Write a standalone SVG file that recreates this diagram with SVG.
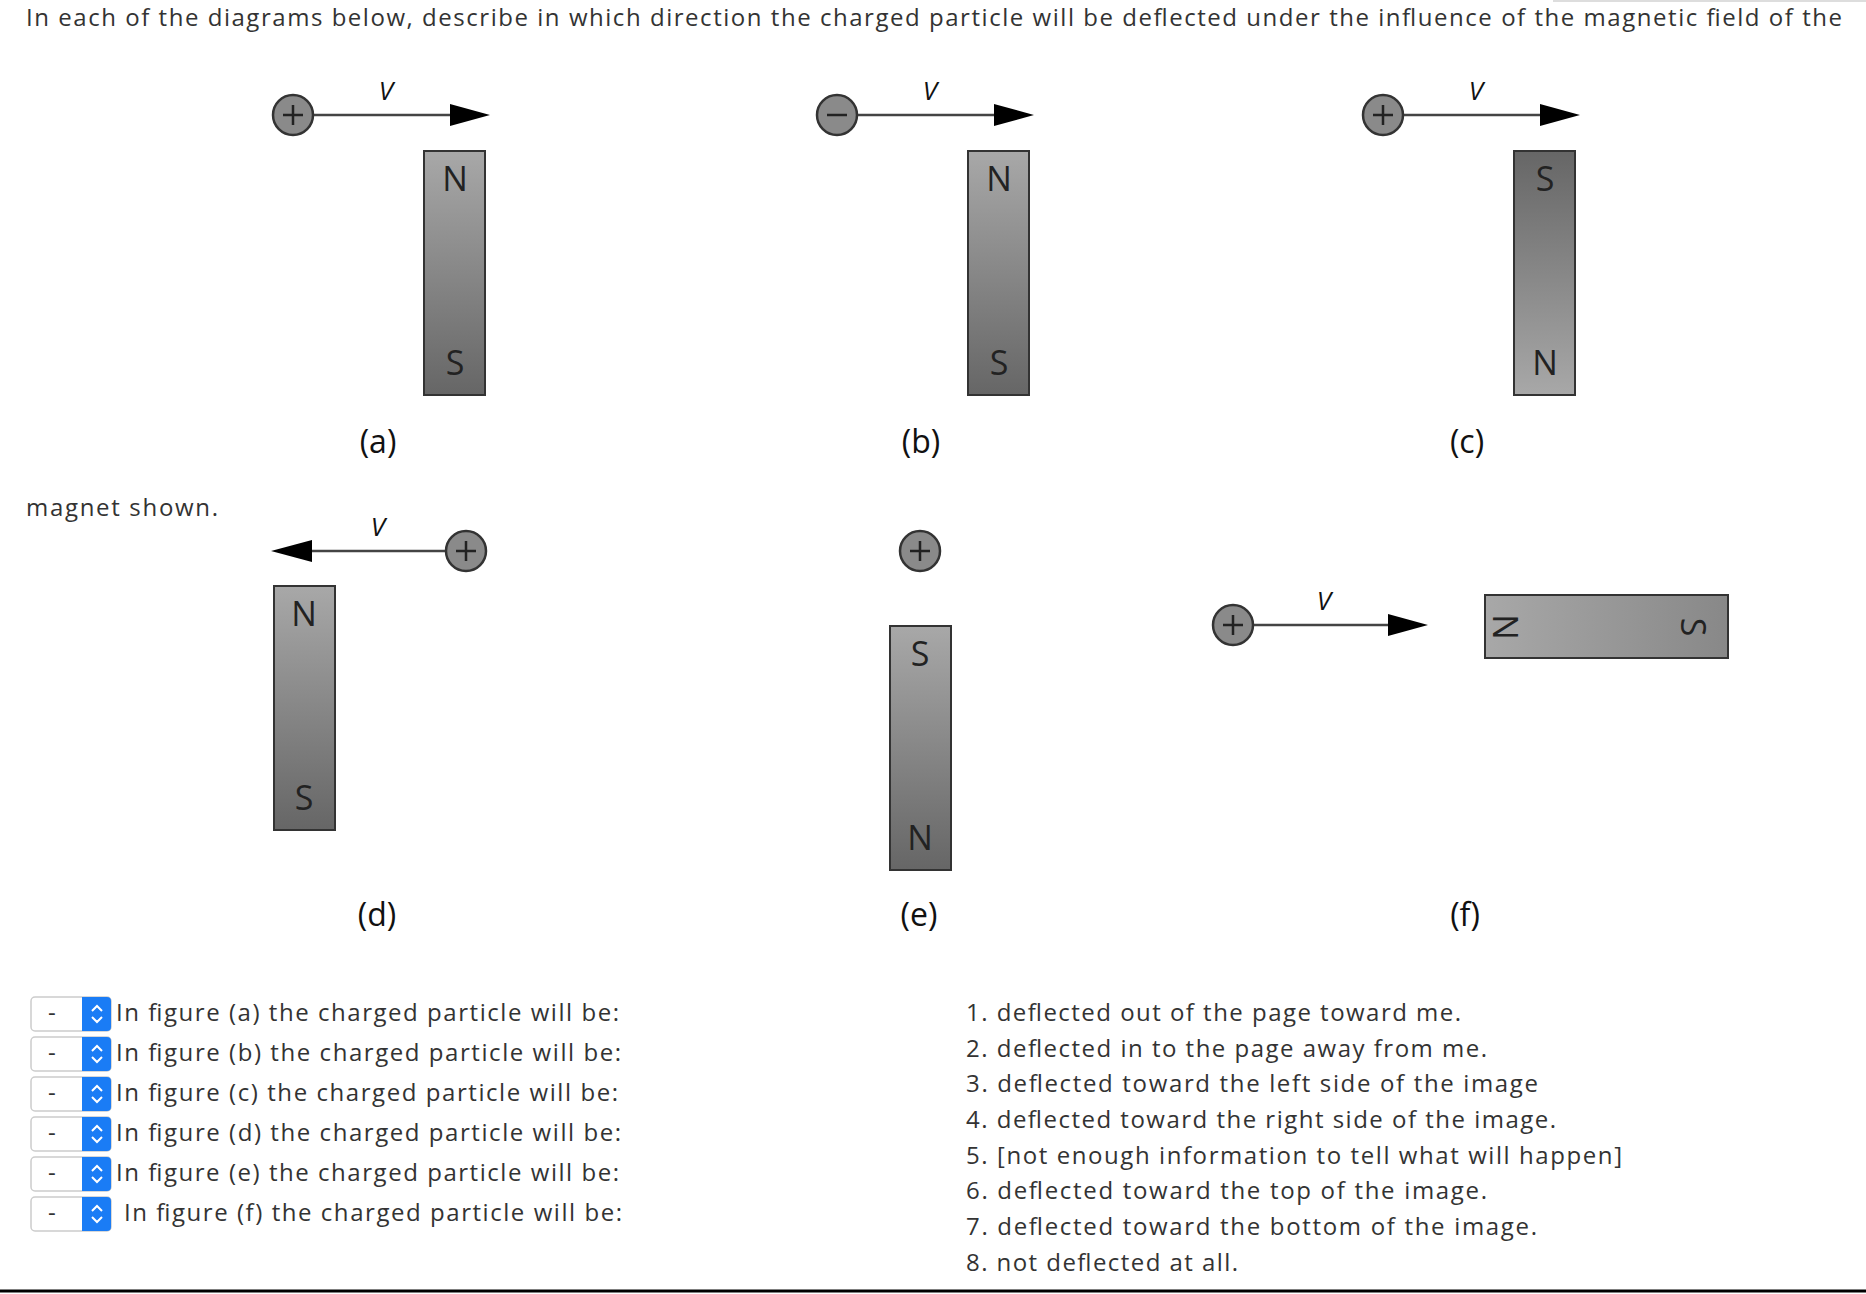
<svg xmlns="http://www.w3.org/2000/svg" width="1866" height="1294" viewBox="0 0 1866 1294">
<style>
text{font-family:"Open Sans","Noto Sans","DejaVu Sans",sans-serif;fill:#333}
.t{font-size:24px}
.big{font-size:32px;fill:#111}
.pol{font-size:34px;fill:#222;text-anchor:middle}
.v{font-size:26px;font-style:italic;fill:#111;text-anchor:middle}
.p{fill:#8a8a8a;stroke:#333;stroke-width:2.5}
.sign{stroke:#222;stroke-width:2.5}
.ln{stroke:#444;stroke-width:2.5}
.mag{stroke:#333;stroke-width:2}
.sel{fill:#fff;stroke:#ccc;stroke-width:1.5}
.lbl{text-anchor:middle}
</style>
<defs>
<linearGradient id="gNS" x1="0" y1="0" x2="0" y2="1"><stop offset="0" stop-color="#a8a8a8"/><stop offset="1" stop-color="#666"/></linearGradient>
<linearGradient id="gSN" x1="0" y1="0" x2="0" y2="1"><stop offset="0" stop-color="#666"/><stop offset="1" stop-color="#a8a8a8"/></linearGradient>
<linearGradient id="gH" x1="0" y1="0" x2="1" y2="0"><stop offset="0" stop-color="#a8a8a8"/><stop offset="1" stop-color="#888"/></linearGradient>
</defs>
<text class="t" x="26" y="26" textLength="1816">In each of the diagrams below, describe in which direction the charged particle will be deflected under the influence of the magnetic field of the</text>
<line x1="1553" y1="1" x2="1866" y2="1" stroke="#ddd" stroke-width="2"/>
<text class="t" x="26" y="516" textLength="192">magnet shown.</text>

<g id="fig-a">
<line class="ln" x1="313" y1="115" x2="452" y2="115"/><polygon points="450,104 490,115 450,126" fill="#000"/>
<circle class="p" cx="293" cy="115" r="20"/><path class="sign" d="M283,115h20M293,105v20"/>
<text class="v" x="386" y="100">V</text>
<rect class="mag" x="424" y="151" width="61" height="244" fill="url(#gNS)"/>
<text class="pol" x="455" y="191">N</text><text class="pol" x="455" y="375">S</text>
<text class="big lbl" x="378" y="453">(a)</text>
</g>
<g id="fig-b">
<line class="ln" x1="857" y1="115" x2="996" y2="115"/><polygon points="994,104 1034,115 994,126" fill="#000"/>
<circle class="p" cx="837" cy="115" r="20"/><path class="sign" d="M827,115h20"/>
<text class="v" x="930" y="100">V</text>
<rect class="mag" x="968" y="151" width="61" height="244" fill="url(#gNS)"/>
<text class="pol" x="999" y="191">N</text><text class="pol" x="999" y="375">S</text>
<text class="big lbl" x="921" y="453">(b)</text>
</g>
<g id="fig-c">
<line class="ln" x1="1403" y1="115" x2="1542" y2="115"/><polygon points="1540,104 1580,115 1540,126" fill="#000"/>
<circle class="p" cx="1383" cy="115" r="20"/><path class="sign" d="M1373,115h20M1383,105v20"/>
<text class="v" x="1476" y="100">V</text>
<rect class="mag" x="1514" y="151" width="61" height="244" fill="url(#gSN)"/>
<text class="pol" x="1545" y="191">S</text><text class="pol" x="1545" y="375">N</text>
<text class="big lbl" x="1467" y="453">(c)</text>
</g>
<g id="fig-d">
<line class="ln" x1="311" y1="551" x2="446" y2="551"/><polygon points="312,540 271,551 312,562" fill="#000"/>
<circle class="p" cx="466" cy="551" r="20"/><path class="sign" d="M456,551h20M466,541v20"/>
<text class="v" x="378" y="536">V</text>
<rect class="mag" x="274" y="586" width="61" height="244" fill="url(#gNS)"/>
<text class="pol" x="304" y="626">N</text><text class="pol" x="304" y="810">S</text>
<text class="big lbl" x="377" y="926">(d)</text>
</g>
<g id="fig-e">
<circle class="p" cx="920" cy="551" r="20"/><path class="sign" d="M910,551h20M920,541v20"/>
<rect class="mag" x="890" y="626" width="61" height="244" fill="url(#gNS)"/>
<text class="pol" x="920" y="666">S</text><text class="pol" x="920" y="850">N</text>
<text class="big lbl" x="919" y="926">(e)</text>
</g>
<g id="fig-f">
<line class="ln" x1="1253" y1="625" x2="1390" y2="625"/><polygon points="1388,614 1428,625 1388,636" fill="#000"/>
<circle class="p" cx="1233" cy="625" r="20"/><path class="sign" d="M1223,625h20M1233,615v20"/>
<text class="v" x="1324" y="610">V</text>
<rect class="mag" x="1485" y="595" width="243" height="63" fill="url(#gH)"/>
<text class="pol" transform="translate(1505,627) rotate(90)" y="12">N</text>
<text class="pol" transform="translate(1693,627) rotate(90)" y="12">S</text>
<text class="big lbl" x="1465" y="926">(f)</text>
</g>

<g id="questions">
<g transform="translate(0,0)"><rect class="sel" x="31" y="997" width="80" height="34" rx="4"/><path d="M82,997h25a4,4 0 0 1 4,4v26a4,4 0 0 1 -4,4h-25z" fill="#1a7cf5"/><text x="48" y="1021" class="t">-</text><path d="M92,1011l5,-5 5,5M92,1017l5,5 5,-5" fill="none" stroke="#fff" stroke-width="2"/><text class="t" x="116" y="1021" textLength="503">In figure (a) the charged particle will be:</text></g>
<g transform="translate(0,40)"><rect class="sel" x="31" y="997" width="80" height="34" rx="4"/><path d="M82,997h25a4,4 0 0 1 4,4v26a4,4 0 0 1 -4,4h-25z" fill="#1a7cf5"/><text x="48" y="1021" class="t">-</text><path d="M92,1011l5,-5 5,5M92,1017l5,5 5,-5" fill="none" stroke="#fff" stroke-width="2"/><text class="t" x="116" y="1021" textLength="505">In figure (b) the charged particle will be:</text></g>
<g transform="translate(0,80)"><rect class="sel" x="31" y="997" width="80" height="34" rx="4"/><path d="M82,997h25a4,4 0 0 1 4,4v26a4,4 0 0 1 -4,4h-25z" fill="#1a7cf5"/><text x="48" y="1021" class="t">-</text><path d="M92,1011l5,-5 5,5M92,1017l5,5 5,-5" fill="none" stroke="#fff" stroke-width="2"/><text class="t" x="116" y="1021" textLength="502">In figure (c) the charged particle will be:</text></g>
<g transform="translate(0,120)"><rect class="sel" x="31" y="997" width="80" height="34" rx="4"/><path d="M82,997h25a4,4 0 0 1 4,4v26a4,4 0 0 1 -4,4h-25z" fill="#1a7cf5"/><text x="48" y="1021" class="t">-</text><path d="M92,1011l5,-5 5,5M92,1017l5,5 5,-5" fill="none" stroke="#fff" stroke-width="2"/><text class="t" x="116" y="1021" textLength="505">In figure (d) the charged particle will be:</text></g>
<g transform="translate(0,160)"><rect class="sel" x="31" y="997" width="80" height="34" rx="4"/><path d="M82,997h25a4,4 0 0 1 4,4v26a4,4 0 0 1 -4,4h-25z" fill="#1a7cf5"/><text x="48" y="1021" class="t">-</text><path d="M92,1011l5,-5 5,5M92,1017l5,5 5,-5" fill="none" stroke="#fff" stroke-width="2"/><text class="t" x="116" y="1021" textLength="503">In figure (e) the charged particle will be:</text></g>
<g transform="translate(0,200)"><rect class="sel" x="31" y="997" width="80" height="34" rx="4"/><path d="M82,997h25a4,4 0 0 1 4,4v26a4,4 0 0 1 -4,4h-25z" fill="#1a7cf5"/><text x="48" y="1021" class="t">-</text><path d="M92,1011l5,-5 5,5M92,1017l5,5 5,-5" fill="none" stroke="#fff" stroke-width="2"/><text class="t" x="124" y="1021" textLength="498">In figure (f) the charged particle will be:</text></g>
</g>
<g id="options">
<text class="t" x="966" y="1021" textLength="495">1. deflected out of the page toward me.</text>
<text class="t" x="966" y="1057" textLength="521">2. deflected in to the page away from me.</text>
<text class="t" x="966" y="1092" textLength="572">3.  deflected toward the left side of the image</text>
<text class="t" x="966" y="1128" textLength="590">4. deflected toward the right side of the image.</text>
<text class="t" x="966" y="1164" textLength="656">5.  [not enough information to tell what will happen]</text>
<text class="t" x="966" y="1199" textLength="521">6.  deflected toward the top of the image.</text>
<text class="t" x="966" y="1235" textLength="571">7.  deflected toward the bottom of the image.</text>
<text class="t" x="966" y="1271" textLength="272">8. not deflected at all.</text>
</g>
<line x1="0" y1="1291" x2="1866" y2="1291" stroke="#000" stroke-width="3"/>
</svg>
